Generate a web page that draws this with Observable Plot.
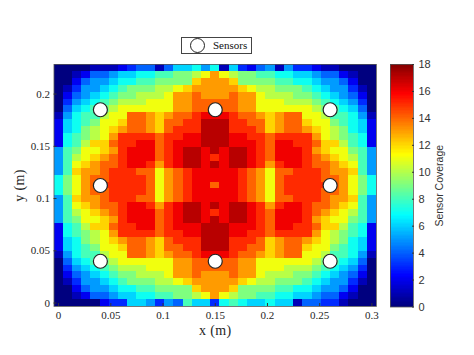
<!DOCTYPE html>
<html><head><meta charset="utf-8">
<script src="https://cdn.jsdelivr.net/npm/d3@7"></script>
<script src="https://cdn.jsdelivr.net/npm/@observablehq/plot@0.6"></script>
<style>
html,body{margin:0;padding:0;background:#fff;overflow:hidden}
#page{position:relative;width:474px;height:355px}
#page svg{position:absolute;top:0;left:0;background:transparent}
#legend{position:absolute;left:181px;top:37px;width:69px;height:15px;border:1px solid #444;background:#fff;font:11px "Liberation Serif",serif;color:#111;line-height:15px}
#legend i{position:absolute;left:8px;top:-0.5px;width:13px;height:13px;border:1.2px solid #222;border-radius:50%;background:#fff}
#legend span{position:absolute;left:31px;top:0}
</style></head><body>
<div id="page"><div id="legend"><i></i><span id="legendText"></span></div></div>
<script>
const xMax = 0.3, yMax = 0.225, nCols = 35, nRows = 35;
const xTicks = [0, 0.05, 0.1, 0.15, 0.2, 0.25, 0.3];
const yTicks = [0, 0.05, 0.1, 0.15, 0.2];
const barTicks = [0, 2, 4, 6, 8, 10, 12, 14, 16, 18];
const sensorX = [0.04, 0.15, 0.26, 0.04, 0.26, 0.04, 0.15, 0.26];
const sensorY = [0.185, 0.185, 0.185, 0.1125, 0.1125, 0.04, 0.04, 0.04];
const jetStops = ["#00007f", "#0000ff", "#007fff", "#00ffff", "#7fff7f", "#ffff00", "#ff7f00", "#ff0000", "#7f0000"];
// rows from the top of the chart (y = 0.225) down to y = 0
const row00 = [0,0,0,0,1,1,1,2,3,4,4,1,4,6,6,7,5,7,1,6,3,2,4,5,1,5,3,3,2,1,1,0,0,0,0];
const row01 = [0,0,1,2,4,4,5,6,6,7,7,8,8,9,9,10,11,13,11,10,9,9,8,8,7,7,6,6,5,4,4,2,1,0,0];
const row02 = [0,0,2,4,5,5,6,7,7,8,8,9,9,9,9,12,13,13,13,12,9,9,9,9,8,8,7,7,6,5,5,4,2,0,0];
const row03 = [0,1,3,5,5,6,7,8,9,9,9,10,10,11,12,13,13,13,13,13,12,11,10,10,9,9,9,8,7,6,5,5,3,1,0];
const row04 = [0,2,4,5,6,7,8,9,9,10,10,10,11,13,13,14,13,13,13,14,13,13,11,10,10,10,9,9,8,7,6,5,4,2,0];
const row05 = [0,3,5,6,7,8,9,10,10,10,11,11,11,13,13,14,14,14,14,14,13,13,11,11,11,10,10,10,9,8,7,6,5,3,0];
const row06 = [0,4,6,7,8,9,10,11,11,11,11,11,11,13,13,14,14,15,14,14,13,13,11,11,11,11,11,11,10,9,8,7,6,4,0];
const row07 = [1,5,7,8,8,10,11,11,14,14,13,12,13,14,14,15,16,16,16,15,14,14,13,12,13,14,14,11,11,10,8,8,7,5,1];
const row08 = [2,6,7,8,9,11,11,12,14,14,13,12,14,14,15,15,17,17,17,15,15,14,14,12,13,14,14,12,11,11,9,8,7,6,2];
const row09 = [2,6,7,9,10,11,12,13,14,14,13,12,14,15,15,15,17,17,17,15,15,15,14,12,13,14,14,13,12,11,10,9,7,6,2];
const row10 = [2,7,8,9,10,11,13,15,15,15,15,14,15,15,16,16,17,17,17,16,16,15,15,14,15,15,15,15,13,11,10,9,8,7,2];
const row11 = [2,7,8,10,12,12,14,15,15,16,16,14,15,16,16,16,17,17,17,16,16,16,15,14,16,16,15,15,14,12,12,10,8,7,2];
const row12 = [5,8,9,11,11,12,13,15,16,16,16,14,15,16,17,17,16,17,16,17,17,16,15,14,16,16,16,15,13,12,11,11,9,8,5];
const row13 = [5,8,10,11,12,13,14,15,16,16,16,14,15,16,17,17,16,15,16,17,17,16,15,14,16,16,16,15,14,13,12,11,10,8,5];
const row14 = [5,8,11,12,13,14,14,15,16,16,15,13,15,16,17,17,16,17,16,17,17,16,15,13,15,16,16,15,14,14,13,12,11,8,5];
const row15 = [5,8,12,13,13,14,15,15,15,14,14,11,13,14,15,16,16,16,16,16,15,14,13,11,14,14,15,15,15,14,13,13,12,8,5];
const row16 = [7,9,11,13,14,14,15,15,15,15,14,11,13,14,15,16,16,16,16,16,15,14,13,11,14,15,15,15,15,14,14,13,11,9,7];
const row17 = [7,9,11,13,14,15,15,15,15,15,14,11,13,14,15,16,16,14,16,16,15,14,13,11,14,15,15,15,15,15,14,13,11,9,7];
const row18 = [7,9,11,13,14,14,15,15,15,15,14,11,13,14,15,16,16,16,16,16,15,14,13,11,14,15,15,15,15,14,14,13,11,9,7];
const row19 = [5,8,12,13,13,14,15,15,15,14,14,11,13,14,15,16,16,16,16,16,15,14,13,11,14,14,15,15,15,14,13,13,12,8,5];
const row20 = [5,8,11,12,13,14,14,15,16,16,15,13,15,16,17,17,16,17,16,17,17,16,15,13,15,16,16,15,14,14,13,12,11,8,5];
const row21 = [5,8,10,11,12,13,14,15,16,16,16,14,15,16,17,17,16,15,16,17,17,16,15,14,16,16,16,15,14,13,12,11,10,8,5];
const row22 = [5,8,9,11,11,12,13,15,16,16,16,14,15,16,17,17,16,17,16,17,17,16,15,14,16,16,16,15,13,12,11,11,9,8,5];
const row23 = [2,7,8,10,12,12,14,15,15,16,16,14,15,16,16,16,17,17,17,16,16,16,15,14,16,16,15,15,14,12,12,10,8,7,2];
const row24 = [2,7,8,9,10,11,13,15,15,15,15,14,15,15,16,16,17,17,17,16,16,15,15,14,15,15,15,15,13,11,10,9,8,7,2];
const row25 = [2,6,7,9,10,11,12,13,14,14,13,12,14,15,15,15,17,17,17,15,15,15,14,12,13,14,14,13,12,11,10,9,7,6,2];
const row26 = [2,6,7,8,9,11,11,12,14,14,13,12,14,14,15,15,17,17,17,15,15,14,14,12,13,14,14,12,11,11,9,8,7,6,2];
const row27 = [1,5,7,8,8,10,11,11,14,14,13,12,13,14,14,15,16,16,16,15,14,14,13,12,13,14,14,11,11,10,8,8,7,5,1];
const row28 = [0,4,6,7,8,9,10,11,11,11,11,11,11,13,13,14,14,15,14,14,13,13,11,11,11,11,11,11,10,9,8,7,6,4,0];
const row29 = [0,3,5,6,7,8,9,10,10,10,11,11,11,13,13,14,14,14,14,14,13,13,11,11,11,10,10,10,9,8,7,6,5,3,0];
const row30 = [0,2,4,5,6,7,8,9,9,10,10,10,11,13,13,14,13,13,13,14,13,13,11,10,10,10,9,9,8,7,6,5,4,2,0];
const row31 = [0,1,3,5,5,6,7,8,9,9,9,10,10,11,12,13,13,13,13,13,12,11,10,10,9,9,9,8,7,6,5,5,3,1,0];
const row32 = [0,0,2,4,5,5,6,7,7,8,8,9,9,9,9,12,13,13,13,12,9,9,9,9,8,8,7,7,6,5,5,4,2,0,0];
const row33 = [0,0,1,2,4,4,5,6,6,7,7,8,8,9,9,10,11,13,11,10,9,9,8,8,7,7,6,6,5,4,4,2,1,0,0];
const row34 = [0,0,0,0,0,2,3,3,6,6,5,3,5,4,8,6,6,3,7,8,7,6,6,7,6,6,1,4,4,3,3,1,0,0,0];

const rows = [row00,row01,row02,row03,row04,row05,row06,row07,row08,row09,row10,row11,row12,row13,row14,row15,row16,row17,
  row18,row19,row20,row21,row22,row23,row24,row25,row26,row27,row28,row29,row30,row31,row32,row33,row34];

const dx = xMax / (nCols - 1), dy = yMax / (nRows - 1);
const cells = rows.flatMap((row, j) => row.map((v, i) => ({x: i * dx, y: (nRows - 1 - j) * dy, v})));
const sensors = sensorX.map((x, i) => ({x, y: sensorY[i]}));
const jet = d3.piecewise(d3.interpolateRgb, jetStops);
const colorOpt = {type: "linear", domain: [0, 18], interpolate: jet};
const serif = "Liberation Serif, serif";

const main = Plot.plot({
  width: 474, height: 355,
  marginLeft: 53.5, marginRight: 98, marginTop: 64, marginBottom: 49,
  style: {fontFamily: serif, fontSize: "11px", color: "#262626", background: "transparent"},
  x: {domain: [-dx / 2, xMax + dx / 2]},
  y: {domain: [-dy / 2, yMax + dy / 2]},
  color: colorOpt,
  marks: [
    Plot.rect(cells, {x1: d => d.x - dx / 2, x2: d => d.x + dx / 2, y1: d => d.y - dy / 2, y2: d => d.y + dy / 2, fill: "v", shapeRendering: "crispEdges"}),
    Plot.frame({stroke: "#555", strokeWidth: 0.8}),
    Plot.axisX({ticks: xTicks, tickFormat: d => String(d), tickSize: -3, tickPadding: 8, stroke: "#333", label: "x (m)", labelAnchor: "center", labelArrow: "none", labelOffset: 28, fontSize: 11}),
    Plot.axisY({ticks: yTicks, tickFormat: d => String(d), tickSize: -3, tickPadding: 7, stroke: "#333", label: "y (m)", labelAnchor: "center", labelArrow: "none", labelOffset: 40, fontSize: 11}),
    Plot.dot(sensors, {x: "x", y: "y", r: 7, fill: "white", stroke: "#222", strokeWidth: 1.2})
  ]
});
main.querySelectorAll('[aria-label="x-axis label"] text, [aria-label="y-axis label"] text').forEach(t => {
  t.style.fontSize = "14px"; t.style.letterSpacing = "0.4px";
});

const levels = d3.range(0, 18, 0.1);
const bar = Plot.plot({
  width: 474, height: 355,
  marginLeft: 390, marginRight: 61, marginTop: 64, marginBottom: 48.5,
  style: {fontFamily: "Liberation Sans, sans-serif", fontSize: "11px", color: "#333", background: "transparent"},
  x: {domain: [0, 1], axis: null},
  y: {domain: [0, 18]},
  color: colorOpt,
  marks: [
    Plot.rect(levels, {x1: () => 0, x2: () => 1, y1: d => d, y2: d => d + 0.1, fill: d => d, shapeRendering: "crispEdges"}),
    Plot.frame({stroke: "#555", strokeWidth: 0.8}),
    Plot.axisY({anchor: "right", ticks: barTicks, tickSize: -2, tickPadding: 7, stroke: "#333", label: "Sensor Coverage", labelAnchor: "center", labelArrow: "none", labelOffset: 29, fontSize: 11})
  ]
});
bar.querySelectorAll('[aria-label="y-axis label"] text').forEach(t => { t.style.fontSize = "10.5px"; });
const page = document.getElementById("page");
page.prepend(bar);
page.prepend(main);
document.getElementById("legendText").textContent = "Sensors";
</script>
</body></html>
